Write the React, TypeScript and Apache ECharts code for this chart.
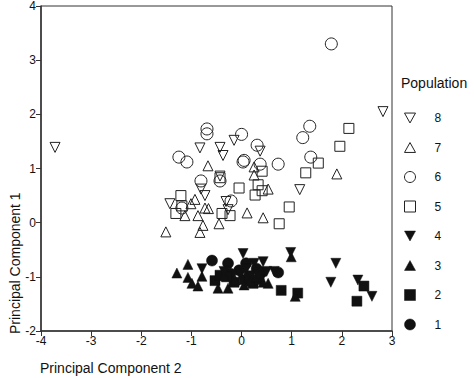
import React, { useEffect, useRef } from "react";
import * as echarts from "echarts";

const xTicks = [-4, 3];
const yTicks = [-2, 4];
const legendOrder = ["8", "7", "6", "5", "4", "3", "2", "1"];

const pop8 = [
  [-3.72, 1.39], [-0.83, 1.38], [-0.43, 1.39], [-0.37, 1.24], [-0.15, 1.52], [0.37, 1.32],
  [2.82, 2.05], [1.16, 0.61], [-1.43, 0.35], [-0.31, 0.39], [-0.81, 0.62], [-0.43, 0.86],
  [-0.73, 0.5], [-0.27, 0.24],
];
const pop7 = [
  [-0.67, 1.05], [1.9, 0.9], [0.25, 1.03], [0.25, 0.88], [0.53, 0.62], [0.11, 0.18],
  [0.43, 0.09], [-1.51, -0.17], [-0.83, -0.18], [-0.77, -0.05], [-1.13, 0.13], [-0.87, 0.13],
  [-0.73, 0.27], [-0.45, -0.02], [-1.01, 0.35], [-0.93, 0.43], [-0.66, 0.26],
];
const pop6 = [
  [1.79, 3.3], [-0.69, 1.73], [-0.69, 1.64], [-1.25, 1.21], [-1.09, 1.12], [-0.81, 0.77],
  [-0.43, 0.77], [0.0, 1.63], [0.31, 1.43], [0.05, 1.15], [0.03, 1.12], [0.37, 1.08],
  [0.73, 1.08], [1.36, 1.78], [1.22, 1.57], [1.38, 1.21], [-0.21, 0.4], [-1.19, 0.27],
];
const pop5 = [
  [2.14, 1.74], [1.96, 1.41], [1.53, 1.1], [1.28, 0.92], [-0.05, 0.64], [0.27, 0.51],
  [0.41, 0.59], [0.95, 0.29], [0.75, -0.02], [-0.23, 0.13], [0.41, 0.95], [0.33, 0.7],
  [-1.21, 0.5], [-1.19, 0.31], [-1.31, 0.17], [-0.39, 0.17], [-0.43, 0.83],
];
const pop4 = [
  [0.03, -0.57], [0.98, -0.55], [0.43, -0.72], [1.88, -0.75], [1.78, -1.1], [2.32, -1.06],
  [2.6, -1.36], [-0.79, -0.85], [0.65, -0.9], [-0.03, -0.95], [0.25, -0.75], [0.1, -0.85],
  [-0.35, -0.9], [0.5, -0.9], [0.33, -0.98],
];
const pop3 = [
  [-1.29, -0.93], [-1.07, -0.77], [-1.07, -1.01], [-0.99, -1.12], [-0.87, -1.17], [-0.79, -0.99],
  [-0.47, -1.21], [-0.27, -1.21], [-0.13, -1.06], [1.07, -1.36], [0.43, -1.1], [0.17, -1.08],
  [0.99, -0.63], [-0.35, -0.98], [0.05, -1.15], [0.3, -1.0], [0.53, -1.12],
];
const pop2 = [
  [0.79, -1.25], [1.12, -1.3], [2.3, -1.45], [2.44, -1.17], [-0.53, -1.07], [-0.43, -0.97],
  [-0.15, -1.1], [0.05, -1.05], [0.23, -1.12], [0.35, -1.05], [-0.3, -1.0], [0.15, -0.98],
];
const pop1 = [
  [-0.59, -0.7], [-0.27, -0.75], [-0.23, -0.94], [0.73, -0.92], [0.09, -0.75], [0.3, -0.85],
  [-0.05, -0.88], [0.4, -0.92],
];

const DOWN = "path://M0,0 L10,0 L5,9 Z";
const UP = "path://M5,0 L10,9 L0,9 Z";

const seriesDefs = [
  { name: "1", data: pop1, symbol: "circle", filled: true, size: 11 },
  { name: "2", data: pop2, symbol: "rect", filled: true, size: 10 },
  { name: "3", data: pop3, symbol: UP, filled: true, size: 10 },
  { name: "4", data: pop4, symbol: DOWN, filled: true, size: 10 },
  { name: "5", data: pop5, symbol: "rect", filled: false, size: 10 },
  { name: "6", data: pop6, symbol: "circle", filled: false, size: 12 },
  { name: "7", data: pop7, symbol: UP, filled: false, size: 10 },
  { name: "8", data: pop8, symbol: DOWN, filled: false, size: 10 },
];

const FONT = "Liberation Sans";

function styleOf(filled: boolean) {
  return filled
    ? { color: "#111", borderColor: "#111", borderWidth: 0.5, opacity: 1 }
    : { color: "rgba(255,255,255,0)", borderColor: "#222", borderWidth: 1, opacity: 1 };
}

export default function App() {
  const ref = useRef<HTMLDivElement>(null);
  useEffect(() => {
    if (!ref.current) return;
    const chart = echarts.init(ref.current, undefined, { renderer: "svg" });
    chart.setOption({
      animation: false,
      backgroundColor: "#fff",
      grid: {
        left: 41,
        top: 4,
        width: 351,
        height: 327,
        show: true,
        borderColor: "#333",
        borderWidth: 1,
      },
      title: {
        text: "Population",
        left: 401,
        top: 76,
        textStyle: { fontFamily: FONT, fontSize: 14, fontWeight: "normal", color: "#111" },
        padding: 0,
      },
      legend: {
        orient: "vertical",
        left: 404,
        top: 112,
        itemWidth: 11,
        itemHeight: 11,
        itemGap: 17.5,
        padding: 0,
        data: legendOrder.map((n) => {
          const d = seriesDefs.find((s) => s.name === n)!;
          return { name: n, icon: d.symbol, itemStyle: styleOf(d.filled) };
        }),
        textStyle: { fontFamily: FONT, fontSize: 12, color: "#111", padding: [0, 0, 0, 14] },
      },
      xAxis: {
        type: "value",
        min: xTicks[0],
        max: xTicks[1],
        interval: 1,
        splitLine: { show: false },
        axisLine: { onZero: false, lineStyle: { color: "#333", width: 1.5 } },
        axisTick: { show: true, length: 5, lineStyle: { color: "#333" } },
        axisLabel: { fontFamily: FONT, fontSize: 12, color: "#111", margin: 4 },
      },
      yAxis: {
        type: "value",
        min: yTicks[0],
        max: yTicks[1],
        interval: 1,
        splitLine: { show: false },
        axisLine: { onZero: false, lineStyle: { color: "#333", width: 1.5 } },
        axisTick: { show: true, length: 5, lineStyle: { color: "#333" } },
        axisLabel: { fontFamily: FONT, fontSize: 12, color: "#111", margin: 5 },
      },
      graphic: [
        {
          type: "text",
          left: 40,
          top: 361,
          style: { text: "Principal Component 2", font: `14px "${FONT}"`, fill: "#111" },
        },
        {
          type: "text",
          x: 15,
          y: 334,
          rotation: Math.PI / 2,
          style: {
            text: "Principal Component 1",
            font: `14px "${FONT}"`,
            fill: "#111",
            textAlign: "left",
            textVerticalAlign: "middle",
          },
        },
      ],
      series: seriesDefs.map((d) => ({
        type: "scatter",
        name: d.name,
        data: d.data,
        symbol: d.symbol,
        symbolSize: d.size,
        itemStyle: styleOf(d.filled),
      })),
    });
    return () => chart.dispose();
  }, []);
  return <div ref={ref} style={{ position: "fixed", left: 0, top: 0, width: 474, height: 378 }} />;
}
